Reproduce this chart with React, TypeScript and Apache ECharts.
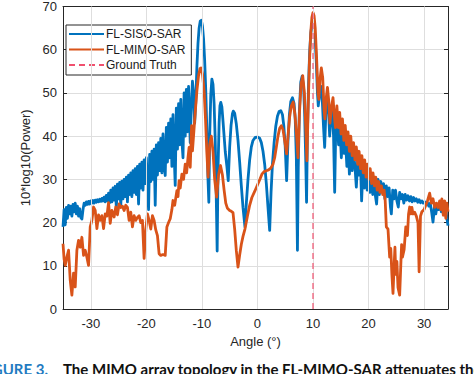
import React, { useEffect, useRef } from "react";
import * as echarts from "echarts";

// ---- Data ----
const sisoAngle = [
  -35, -34.8, -34.6, -34.4, -34.2, -34.0, -33.8, -33.6, -33.4, -33.2, -33.0, -32.8, -32.6, -32.4, -32.2, -32.0,
  -31.8, -31.6, -31.4, -31.2, -31.0, -30.8, -30.6, -30.4, -30.2, -30.0, -29.8, -29.6, -29.4, -29.2, -29.0,
  -28.8, -28.6, -28.4, -28.2, -28.0, -27.8, -27.6, -27.4, -27.2, -27.0, -26.8, -26.6, -26.4, -26.2, -26.0,
  -25.8, -25.6, -25.4, -25.2, -25.0, -24.8, -24.6, -24.4, -24.2, -24.0, -23.8, -23.6, -23.4, -23.2, -23.0,
  -22.8, -22.6, -22.4, -22.2, -22.0, -21.8, -21.6, -21.4, -21.2, -21.0, -20.8, -20.6, -20.4, -20.2, -20.0,
  -19.8, -19.6, -19.4, -19.2, -19.0, -18.8, -18.6, -18.4, -18.2, -18.0, -17.8, -17.6, -17.4, -17.2, -17.0,
  -16.8, -16.6, -16.4, -16.2, -16.0, -15.8, -15.6, -15.4, -15.2, -15.0, -14.8, -14.6, -14.4, -14.2, -14.0,
  -13.8, -13.6, -13.4, -13.2, -13.0, -12.8, -12.6, -12.4, -12.1, -11.9, -11.7, -11.5, -11.3, -11.1,
  -10.9, -10.7, -10.5, -10.3, -10.1, -9.9, -9.7, -9.5, -9.3, -9.1, -8.9, -8.75, -8.6, -8.4, -8.2, -8.0,
  -7.8, -7.6, -7.4, -7.25, -7.1, -6.9, -6.75, -6.6, -6.4, -6.2, -6.0, -5.8, -5.5, -5.26, -5.0, -4.75,
  -4.5, -4.35, -4.1, -3.8, -3.5, -3.2, -2.9, -2.6, -2.25, -2.0, -1.7, -1.4, -1.1, -0.8, -0.4, 0.0, 0.4,
  0.7, 1.0, 1.3, 1.6, 1.9, 2.2, 2.45, 2.7, 3.0, 3.3, 3.6, 3.9, 4.2, 4.5, 4.75, 5.0, 5.25, 5.5, 5.75, 6.0,
  6.3, 6.6, 6.8, 7.0, 7.2, 7.35, 7.55, 7.8, 8.05, 8.3, 8.5, 8.7, 8.84, 9.0, 9.2, 9.4, 9.6, 9.8, 10.0,
  10.2, 10.4, 10.6, 10.8, 10.95, 11.2, 11.45, 11.7, 11.9, 12.1, 12.3, 12.55, 12.8, 13.0, 13.2, 13.45,
  13.7, 13.9, 14.1, 14.35, 14.6, 14.85, 15.1, 15.35, 15.6, 15.85, 16.1, 16.35, 16.55, 16.8, 17.05, 17.3,
  17.55, 17.8, 18.05, 18.3, 18.55, 18.75, 19.0, 19.25, 19.5, 19.75, 20.0, 20.25, 20.5, 20.75, 21.0,
  21.25, 21.45, 21.7, 21.95, 22.2, 22.45, 22.7, 22.95, 23.2, 23.45, 23.7, 23.95, 24.1, 24.35, 24.6,
  24.85, 25.1, 25.35, 25.6, 25.85, 26.1, 26.35, 26.6, 26.85, 27.1, 27.35, 27.6, 27.85, 28.1, 28.35,
  28.6, 28.85, 29.1, 29.35, 29.6, 29.85, 30.1, 30.35, 30.6, 30.85, 31.1, 31.35, 31.6, 31.85, 32.1,
  32.35, 32.6, 32.85, 33.1, 33.35, 33.6, 33.85, 34.1, 34.3,
];
const sisoPower = [
  19, 23, 19.5, 23.5, 21, 24, 22, 23.8, 21.5, 24.2, 22.5, 24.5, 22, 23.8, 21.5, 23.2,
  21.2, 20.8, 23, 24.5, 24, 24.8, 24.2, 24.9, 24.3, 25, 24.5, 25.1, 24.5, 25.2, 24.7,
  25.3, 24.8, 25.4, 24.9, 25.6, 25, 25.9, 24.8, 26.3, 25, 26.8, 24.6, 27.5, 24.8, 28,
  25.2, 28.4, 23.5, 28.9, 25.5, 29.3, 24, 29.6, 25.5, 30, 26, 30.5, 24.8, 31, 26.5,
  31.5, 26, 32, 27, 32.5, 26.5, 33, 24.3, 33.5, 28, 34, 27.5, 34.5, 29, 35,
  29, 23, 35.8, 29.5, 36.5, 30, 37, 24, 38, 31, 38.5, 32, 39.5, 31.5, 40.5,
  33, 30.9, 42, 34, 43, 35, 44, 33, 45, 36, 28.6, 46.5, 37, 47.5, 38,
  48.5, 39, 35, 50, 40, 50.8, 41, 51.5, 38.5, 47, 52.7, 50, 43, 48,
  56, 61.5, 65, 66.6, 66.8, 65.5, 62.5, 57.5, 50.5, 41, 30, 24.7, 40, 49.5, 53.2, 52,
  47.5, 39, 25, 13.4, 32, 43, 47, 47.8, 46.8, 43.5, 40, 36.5, 33, 29.7, 37.5, 42.5,
  45.2, 45.8, 45.3, 42.8, 39, 34, 28.5, 23.5, 19, 24.5, 30, 34.5, 37.5, 39, 39.7, 39.8, 39.5,
  38.5, 36.5, 33.5, 29, 23.5, 18.2, 27, 33.5, 38.5, 42.3, 44.6, 45.7, 45.9, 45, 42.3, 37.5, 29.7, 39, 45, 48,
  48.9, 47.5, 44, 35, 13.6, 33, 46, 52.5, 53.9, 51.5, 45, 34, 24.7, 41, 52, 59.5, 63.8, 65.8, 66.3,
  65.5, 62.5, 57, 50, 47, 50, 51.5, 47.5, 42, 37.4, 45, 49, 46, 40, 44, 46.5,
  40, 27, 42, 44, 38, 42, 35, 41, 36, 39, 33, 38, 31.2, 37, 32, 36,
  33, 28.2, 34.5, 31, 33.5, 25, 33, 28, 32, 27.5, 31.5, 27, 31, 26.5, 30.5,
  26, 24.3, 30, 26.5, 29.5, 27, 29, 25.5, 28.5, 26, 28, 23.5, 22, 27.5, 25.5,
  27.5, 25, 23.6, 27, 25.5, 26.5, 24.5, 26.5, 25.2, 26.2, 25, 26, 24.8, 25.8, 25,
  25.5, 24.7, 25.3, 24.6, 25, 24.5, 24.8, 24.3, 24.6, 23.8, 24.5, 22.5, 20.1, 23.5, 22,
  24, 23, 24.5, 22.5, 24.5, 23, 24, 21, 19.3,
];

const mimoAngle = [
  -35, -34.8, -34.6, -34.3, -34.0, -33.7, -33.4, -33.1, -32.8, -32.5, -32.2, -31.9, -31.6, -31.3, -31.0,
  -30.7, -30.4, -30.1, -29.8, -29.5, -29.2, -28.9, -28.6, -28.3, -28.0, -27.7, -27.4, -27.1, -26.8, -26.5,
  -26.2, -25.8, -25.5, -25.2, -24.9, -24.6, -24.3, -24.0, -23.7, -23.4, -23.1, -22.8, -22.5, -22.2, -21.9,
  -21.6, -21.3, -21.0, -20.7, -20.4, -20.1, -19.8, -19.5, -19.2, -18.9, -18.6, -18.3, -18.0, -17.7, -17.4,
  -17.0, -16.6, -16.3, -16.0, -15.7, -15.4, -15.2, -14.9, -14.5, -14.3, -14.1, -13.9, -13.6, -13.3, -13.0,
  -12.75, -12.5, -12.3, -12.1, -11.85, -11.7, -11.45, -11.2, -10.9, -10.6, -10.35, -10.15, -9.9, -9.6,
  -9.35, -9.1, -8.88, -8.6, -8.3, -8.0, -7.7, -7.35, -7.0, -6.65, -6.3, -6.0, -5.7, -5.4, -5.0, -4.7,
  -4.4, -4.1, -3.8, -3.5, -3.2, -2.9, -2.6, -2.25, -1.8, -1.4, -1.0, -0.5, 0.0, 0.5, 0.8, 1.2, 1.6, 2.0,
  2.4, 2.8, 3.1, 3.4, 3.7, 4.0, 4.3, 4.6, 4.9, 5.25, 5.5, 5.8, 6.1, 6.43, 6.75, 7.05, 7.3, 7.55, 7.85,
  8.15, 8.45, 8.7, 8.9, 9.1, 9.35, 9.6, 9.8, 10.0, 10.2, 10.4, 10.65, 10.9, 11.05, 11.25, 11.5, 11.75,
  12.0, 12.15, 12.35, 12.6, 12.85, 13.05, 13.3, 13.6, 13.85, 14.05, 14.3, 14.55, 14.8, 15.05, 15.3,
  15.55, 15.8, 16.05, 16.3, 16.55, 16.8, 17.05, 17.3, 17.55, 17.8, 18.05, 18.3, 18.55, 18.8, 19.05,
  19.3, 19.55, 19.8, 20.05, 20.3, 20.55, 20.8, 21.05, 21.3, 21.55, 21.8, 22.05, 22.3, 22.55, 22.8,
  23.0, 23.2, 23.5, 23.8, 24.0, 24.2, 24.4, 24.6, 24.75, 24.9, 25.1, 25.3, 25.6, 25.8, 25.95, 26.1,
  26.4, 26.7, 27.0, 27.2, 27.4, 27.6, 27.8, 28.0, 28.3, 28.6, 28.9, 29.1, 29.35, 29.6, 30.0, 30.3,
  30.6, 31.0, 31.3, 31.6, 31.9, 32.2, 32.5, 32.8, 33.0, 33.2, 33.45, 33.7, 33.9, 34.1, 34.3,
];
const mimoPower = [
  15.1, 11.5, 10.1, 12, 13.6, 6.7, 3.2, 8.3, 5.1, 13.6, 15.9, 14.3, 16.6, 12.4, 13.6,
  12, 10.1, 19, 20.5, 23.6, 22.8, 18.6, 21.8, 20.5, 21.6, 18.6, 22, 21.5, 24.6, 19.8,
  22.8, 21.3, 23.6, 21.8, 24.3, 23.5, 23.8, 22.8, 24, 23.5, 20.5, 22.4, 19, 21.6, 20.5,
  21.2, 21.6, 20, 20.5, 11.7, 18.3, 22, 20.5, 18.5, 21.6, 20.5, 18.3, 17, 12.8, 12.4,
  12.6, 12.4, 19, 20, 20.9, 23, 25.1, 24, 27.4, 26, 29.7, 28, 31.2, 30, 33.5,
  31.5, 35, 37.4, 32.8, 42.4, 36.6, 41, 45.5, 50.5, 54, 55.6, 55.8, 54.5, 50.5,
  44, 36, 30.5, 38, 40, 36.5, 30, 25.9, 31, 33.2, 31, 27.5, 24.5, 23.3, 22.8, 22.6,
  22.3, 18.5, 13.5, 9.7, 12.5, 15, 16.8, 18.5, 21.5, 24, 25.8, 27.2, 28.7, 30.2, 31.2, 31.8, 32, 32.2,
  32.6, 33.5, 35, 37.5, 40, 41.8, 42.4, 41.5, 39, 35.9, 40, 44.5, 47, 47.9, 45, 40, 35, 45, 52,
  54, 50, 42, 34.3, 45, 57, 64, 67.5, 68.6, 67.8, 65, 58, 50, 48.5, 53, 55.8, 53.5,
  46, 44, 48.5, 51.3, 48, 43, 46.5, 48.9, 44.5, 42, 47, 42, 45.5, 40.5, 44,
  39, 42.5, 38, 41, 36.5, 40, 35.5, 38.5, 34.5, 37.5, 33.5, 36.5, 32.5, 35.5, 31.5,
  34.5, 30.5, 33.5, 30, 32.5, 29, 31.5, 28.5, 30.5, 27.5, 29.5, 27, 28.5, 26.5, 27.5,
  25, 19, 18.5, 12, 14, 8, 3.6, 10, 14.3, 8, 11, 5, 3.2, 10, 14.9, 12,
  13.7, 19, 17, 22, 23.6, 22, 23.5, 22, 22.4, 21.5, 20, 8.6, 21.5, 22.5, 23, 24,
  25, 26.8, 24.5, 25.5, 23.5, 24.5, 23.5, 25, 23, 25.5, 21.7, 25, 21, 24.5, 22.5,
];

const groundTruthAngle = [10, 10];
const groundTruthPower = [0, 70];

const xGridValues = [-30, -20, -10, 0, 10, 20, 30];

const seriesNames = ["FL-SISO-SAR", "FL-MIMO-SAR", "Ground Truth"];

const zip = (a: number[], b: number[]) => a.map((v, i) => [v, b[i]]);

const AXIS_COLOR = "#262626";
const GRID_COLOR = "#dedede";
const FONT = "'Liberation Sans', Arial, Helvetica, sans-serif";
const CAPTION_FONT = "bold 15px Lato, 'Open Sans', sans-serif";

const isDecade = (v: number) => Math.abs(v / 10 - Math.round(v / 10)) < 1e-6;

export default function App() {
  const ref = useRef<HTMLDivElement>(null);

  useEffect(() => {
    if (!ref.current) return;
    const chart = echarts.init(ref.current, undefined, { renderer: "svg" });
    const xMin = -35;
    const xMax = 34.3;
    const tickStyle = { show: true, inside: true, length: 4, lineStyle: { color: AXIS_COLOR } };
    const frameLine = { show: true, onZero: false, lineStyle: { color: AXIS_COLOR, width: 1 } };
    chart.setOption({
      animation: false,
      backgroundColor: "#ffffff",
      grid: { left: 63, right: 26, top: 5.5, bottom: 65, containLabel: false },
      legend: {
        orient: "vertical",
        left: 66,
        top: 25,
        padding: [3, 6, 4, 2],
        itemGap: 3.5,
        itemWidth: 35,
        itemHeight: 12,
        backgroundColor: "#ffffff",
        borderColor: AXIS_COLOR,
        borderWidth: 1,
        borderRadius: 0,
        data: seriesNames,
        itemStyle: { opacity: 0 },
        textStyle: { fontFamily: FONT, fontSize: 12, color: "#1a1a1a", padding: [0, 0, 0, -3] },
      },
      xAxis: [
        {
          type: "value",
          min: xMin,
          max: xMax,
          splitNumber: 7,
          position: "bottom",
          name: "Angle (°)",
          nameLocation: "middle",
          nameGap: 26,
          nameTextStyle: { fontFamily: FONT, fontSize: 13, color: AXIS_COLOR },
          axisLine: frameLine,
          axisTick: tickStyle,
          axisLabel: {
            fontFamily: FONT,
            fontSize: 13,
            color: AXIS_COLOR,
            margin: 8,
            showMinLabel: false,
            showMaxLabel: false,
            formatter: (v: number) => (isDecade(v) ? String(Math.round(v)) : ""),
          },
          splitLine: { show: true, lineStyle: { color: GRID_COLOR, width: 1 } },
        },
        {
          type: "value",
          min: xMin,
          max: xMax,
          splitNumber: 7,
          position: "top",
          axisLine: frameLine,
          axisTick: tickStyle,
          axisLabel: { show: false },
          splitLine: { show: false },
        },
      ],
      yAxis: [
        {
          type: "value",
          min: 0,
          max: 70,
          interval: 10,
          position: "left",
          name: "10*log10(Power)",
          nameLocation: "middle",
          nameGap: 25,
          nameTextStyle: { fontFamily: FONT, fontSize: 13, color: AXIS_COLOR },
          axisLine: frameLine,
          axisTick: tickStyle,
          axisLabel: { fontFamily: FONT, fontSize: 13, color: AXIS_COLOR, margin: 6 },
          splitLine: { show: true, lineStyle: { color: GRID_COLOR, width: 1 } },
        },
        {
          type: "value",
          min: 0,
          max: 70,
          interval: 10,
          position: "right",
          axisLine: frameLine,
          axisTick: tickStyle,
          axisLabel: { show: false },
          splitLine: { show: false },
        },
      ],
      series: [
        {
          name: "grid",
          type: "line",
          xAxisIndex: 0,
          yAxisIndex: 0,
          data: [],
          silent: true,
          z: 1,
          markLine: {
            silent: true,
            symbol: ["none", "none"],
            animation: false,
            label: { show: false },
            lineStyle: { color: GRID_COLOR, width: 1, type: "solid" },
            emphasis: { disabled: true },
            data: xGridValues.map((v) => ({ xAxis: v })),
          },
        },
        {
          name: seriesNames[0],
          type: "line",
          xAxisIndex: 0,
          yAxisIndex: 0,
          symbol: "none",
          showSymbol: false,
          data: zip(sisoAngle, sisoPower),
          lineStyle: { color: "#0072BD", width: 2.8, join: "round" },
          itemStyle: { color: "#0072BD" },
          z: 3,
        },
        {
          name: seriesNames[1],
          type: "line",
          xAxisIndex: 0,
          yAxisIndex: 0,
          symbol: "none",
          showSymbol: false,
          data: zip(mimoAngle, mimoPower),
          lineStyle: { color: "#D95319", width: 2.8, join: "round" },
          itemStyle: { color: "#D95319" },
          z: 4,
        },
        {
          name: seriesNames[2],
          type: "line",
          xAxisIndex: 0,
          yAxisIndex: 0,
          symbol: "none",
          showSymbol: false,
          data: zip(groundTruthAngle, groundTruthPower),
          lineStyle: { color: "#f0506e", width: 1.2, type: [6, 4] },
          itemStyle: { color: "#f0506e" },
          z: 5,
        },
      ],
      graphic: [
        {
          type: "text",
          x: 48,
          y: 361,
          style: {
            text: "FIGURE 3.",
            fill: "#1f7bc1",
            font: CAPTION_FONT,
            align: "right",
            verticalAlign: "top",
          },
        },
        {
          type: "text",
          x: 63,
          y: 361,
          style: {
            text: "The MIMO array topology in the FL-MIMO-SAR attenuates the",
            fill: "#111111",
            font: CAPTION_FONT,
            align: "left",
            verticalAlign: "top",
          },
        },
      ],
    });
    return () => chart.dispose();
  }, []);

  return (
    <div
      ref={ref}
      style={{ position: "fixed", left: 0, top: 0, width: 474, height: 374, background: "#fff" }}
    />
  );
}
